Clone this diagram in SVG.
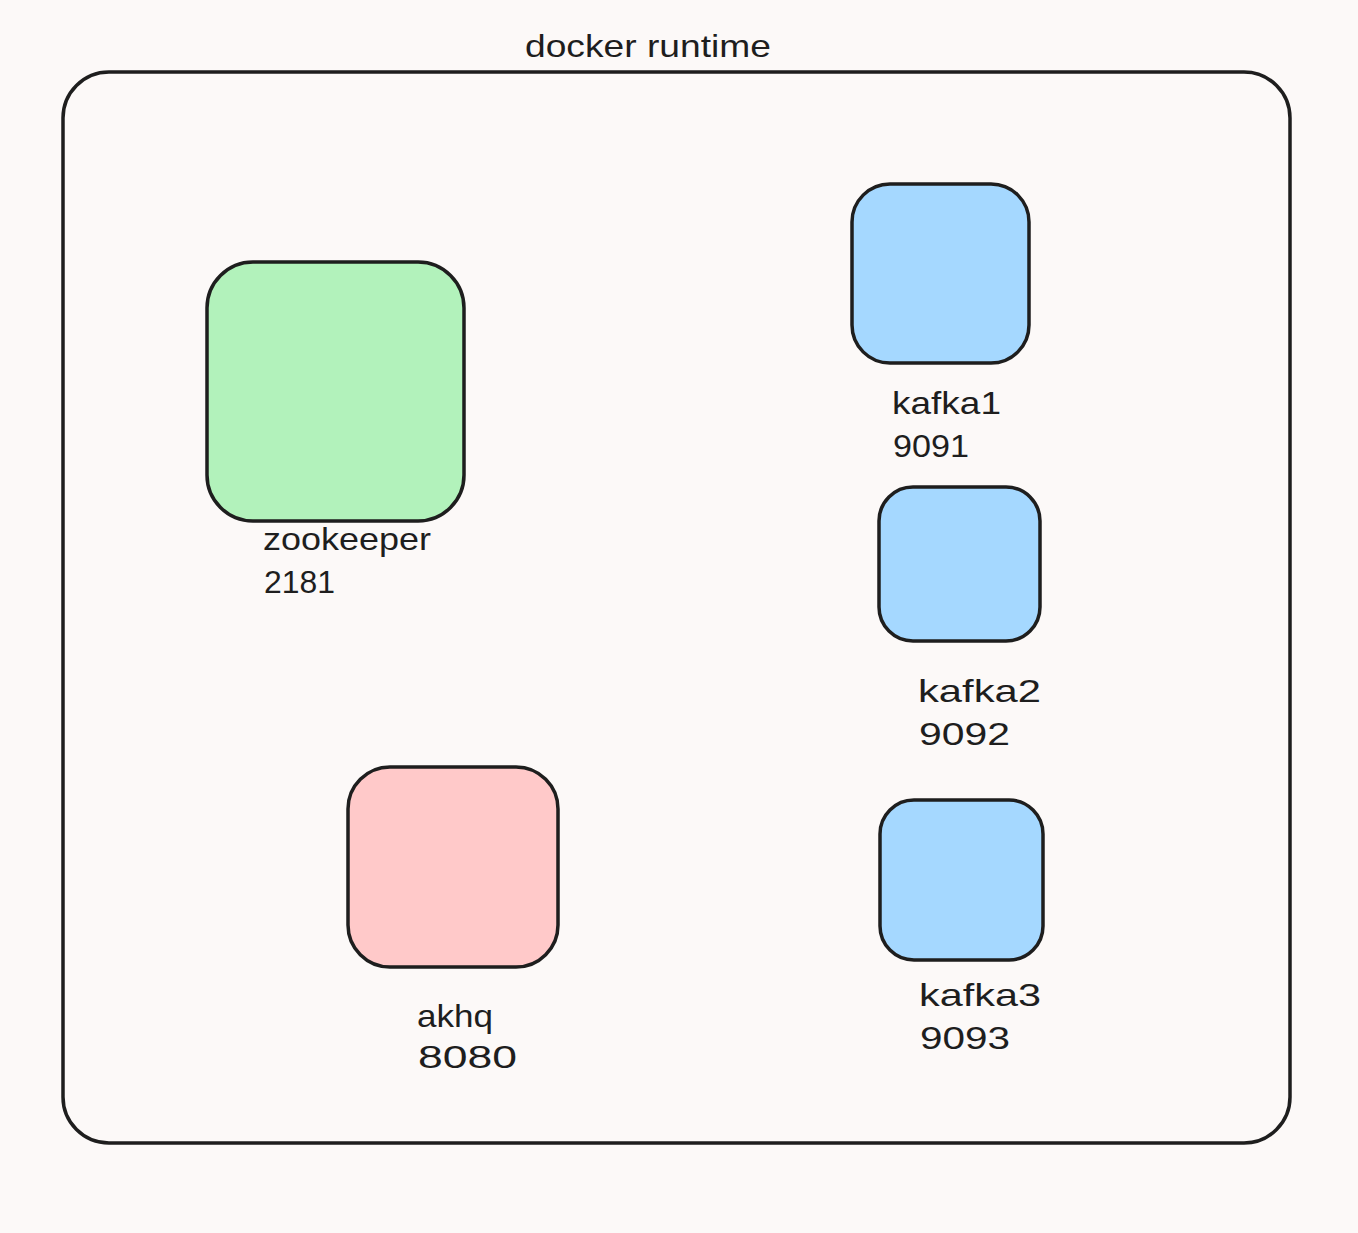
<svg xmlns="http://www.w3.org/2000/svg" width="1358" height="1233" viewBox="0 0 1358 1233">
  <style>
    .box { stroke: #1e1e1e; stroke-width: 3.5; }
    .lbl { font-family: "Liberation Sans", Arial, sans-serif; font-size: 32px; fill: #1e1e1e; }
    .green { fill: #b2f2bb; }
    .blue { fill: #a5d8ff; }
    .red { fill: #ffc9c9; }
  </style>
  <rect x="0" y="0" width="1358" height="1233" fill="#fcf9f8"/>
  <g id="docker-runtime">
    <rect x="63" y="72" width="1227" height="1071" rx="46" fill="none" class="box"/>
    <text x="648" y="57" class="lbl" text-anchor="middle" textLength="246" lengthAdjust="spacingAndGlyphs">docker runtime</text>
  </g>
  <g id="zookeeper">
    <rect x="207" y="262" width="257" height="259" rx="46" class="box green"/>
    <text x="263" y="550" class="lbl" textLength="168" lengthAdjust="spacingAndGlyphs">zookeeper</text>
    <text x="264" y="593" class="lbl" textLength="71" lengthAdjust="spacingAndGlyphs">2181</text>
  </g>
  <g id="kafka1">
    <rect x="852" y="184" width="177" height="179" rx="38" class="box blue"/>
    <text x="892" y="414" class="lbl" textLength="109" lengthAdjust="spacingAndGlyphs">kafka1</text>
    <text x="893" y="457" class="lbl" textLength="76" lengthAdjust="spacingAndGlyphs">9091</text>
  </g>
  <g id="kafka2">
    <rect x="879" y="487" width="161" height="154" rx="34" class="box blue"/>
    <text x="918" y="702" class="lbl" textLength="123" lengthAdjust="spacingAndGlyphs">kafka2</text>
    <text x="919" y="745" class="lbl" textLength="91" lengthAdjust="spacingAndGlyphs">9092</text>
  </g>
  <g id="kafka3">
    <rect x="880" y="800" width="163" height="160" rx="34" class="box blue"/>
    <text x="919" y="1006" class="lbl" textLength="122" lengthAdjust="spacingAndGlyphs">kafka3</text>
    <text x="920" y="1049" class="lbl" textLength="90" lengthAdjust="spacingAndGlyphs">9093</text>
  </g>
  <g id="akhq">
    <rect x="348" y="767" width="210" height="200" rx="42" class="box red"/>
    <text x="417" y="1027" class="lbl" textLength="76" lengthAdjust="spacingAndGlyphs">akhq</text>
    <text x="418" y="1068" class="lbl" textLength="99" lengthAdjust="spacingAndGlyphs">8080</text>
  </g>
  <g id="connectors"></g>
</svg>
